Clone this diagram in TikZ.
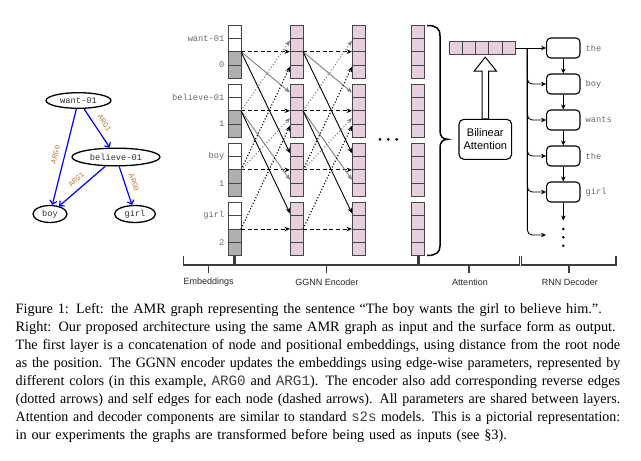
\documentclass[tikz,border=0pt]{standalone}
\usepackage{graphicx}
\usepackage{fontspec}
\setmainfont{Liberation Serif}
\setsansfont{Liberation Sans}
\setmonofont{Liberation Mono}
\usetikzlibrary{arrows.meta,shapes.geometric,calc}
\definecolor{argblue}{RGB}{0,0,255}
\definecolor{arglab}{RGB}{185,125,60}
\definecolor{pinkc}{RGB}{231,208,222}
\definecolor{embg}{RGB}{176,176,176}
\definecolor{edgegray}{RGB}{128,128,128}
\definecolor{cellline}{RGB}{70,70,70}
\definecolor{labgray}{RGB}{105,105,105}
\definecolor{brkgray}{RGB}{60,60,60}
\newlength\capw
\setlength\capw{604.5pt}
\newcommand\capline[1]{\setbox0\hbox{#1}\ifdim\wd0>\capw\resizebox{\capw}{\height}{#1}\else\makebox[\capw][s]{#1}\fi}
\begin{document}
\begin{tikzpicture}[x=1pt,y=-1pt,
  amr/.style={ellipse, draw, line width=1.3pt, inner sep=0pt, font=\fontsize{8.7}{10}\ttfamily, text=black!80},
  amredge/.style={argblue, line width=1.2pt, -{Straight Barb[length=3.5pt,width=7pt]}},
  amrlab/.style={sloped, above, font=\fontsize{7.6}{9}\ttfamily, text=arglab, inner sep=2pt, outer sep=4.5pt},
  cell/.style={draw=cellline, line width=0.8pt, minimum width=13pt, minimum height=13.333pt, inner sep=0pt, outer sep=0pt},
  vcell/.style={draw=cellline, line width=0.8pt, fill=pinkc, minimum width=13.1pt, minimum height=12.6pt, inner sep=0pt, outer sep=0pt},
  emblab/.style={anchor=east, font=\fontsize{8.7}{10}\ttfamily, text=labgray, inner sep=0pt},
  arr/.style={-{Stealth[length=5.5pt,width=4.5pt]}},
  selfe/.style={arr, black, line width=0.9pt, dash pattern=on 4pt off 2.6pt},
  a0/.style={arr, black, line width=0.9pt},
  a1/.style={arr, edgegray, line width=0.9pt},
  a0r/.style={arr, black, line width=1.1pt, dash pattern=on 1.1pt off 2pt},
  a1r/.style={arr, edgegray, line width=1.1pt, dash pattern=on 1.1pt off 2pt},
  dec/.style={draw, rounded corners=4pt, line width=1.1pt, minimum width=33.3pt, minimum height=20pt, inner sep=0pt},
  declab/.style={anchor=west, font=\fontsize{8.7}{10}\ttfamily, text=labgray, inner sep=0pt},
  arr2/.style={-{Stealth[length=5pt,width=4.5pt]}, line width=0.9pt},
  attbox/.style={draw, rounded corners=5pt, line width=1.1pt, minimum width=52.7pt, minimum height=40pt, align=center, font=\fontsize{11}{13.2}\sffamily, inner sep=0pt},
  brk/.style={draw=brkgray, line width=1.2pt},
  blab/.style={font=\fontsize{9}{11}\sffamily, text=black!85, inner sep=0pt}
]
\useasboundingbox (0,0) rectangle (641,461);

% ---------- AMR graph ----------
\node[amr, minimum width=65pt, minimum height=15.6pt] (want) at (78.5,100.5) {want-01};
\node[amr, minimum width=88pt, minimum height=17.7pt] (believe) at (116,157) {believe-01};
\node[amr, minimum width=34pt, minimum height=17pt] (boy) at (50,214) {boy};
\node[amr, minimum width=41pt, minimum height=17pt] (girl) at (135,214) {girl};
\draw[amredge] (want) -- node[amrlab]{ARG0} (boy);
\draw[amredge] (want) -- node[amrlab]{ARG1} (believe);
\draw[amredge] (believe) -- node[amrlab]{ARG1} (boy);
\draw[amredge] (believe) -- node[amrlab]{ARG0} (girl);

% ---------- columns of cells ----------
\foreach \c/\xx in {1/228,2/290,3/352,4/411}{
  \foreach \g in {1,2,3,4}{
    \foreach \k in {1,2,3,4}{
      \ifnum\c=1 \ifnum\k<3 \def\cf{white}\else\def\cf{embg}\fi \else \def\cf{pinkc}\fi
      \node[cell, fill=\cf] (c\c g\g k\k) at ({\xx+6.5},{25+(\g-1)*59.1+(\k-1)*13.333+6.667}) {};
    }
  }
}

% embedding labels
\node[emblab] (l1a) at ($(c1g1k1.south west)+(-3.5,0)$) {want-01};
\node[emblab] (l1b) at ($(c1g1k3.south west)+(-3.5,0)$) {0};
\node[emblab] (l2a) at ($(c1g2k1.south west)+(-3.5,0)$) {believe-01};
\node[emblab] (l2b) at ($(c1g2k3.south west)+(-3.5,0)$) {1};
\node[emblab] (l3a) at ($(c1g3k1.south west)+(-3.5,0)$) {boy};
\node[emblab] (l3b) at ($(c1g3k3.south west)+(-3.5,0)$) {1};
\node[emblab] (l4a) at ($(c1g4k1.south west)+(-3.5,0)$) {girl};
\node[emblab] (l4b) at ($(c1g4k3.south west)+(-3.5,0)$) {2};

% ---------- GGNN edges ----------
\foreach \a/\b in {1/2,2/3}{
  \foreach \g in {1,2,3,4}{
    \draw[selfe] (c\a g\g k2.south east) -- (c\b g\g k2.south west);
  }
  \draw[a1] (c\a g1k2.south east) -- ($(c\b g2k1.north west)+(0,8.4)$);
  \draw[a0] (c\a g1k2.south east) -- ($(c\b g3k1.north west)+(0,10)$);
  \draw[a1r] (c\a g2k2.south east) -- ($(c\b g1k1.north west)+(0,15.7)$);
  \draw[a1] (c\a g2k2.south east) -- ($(c\b g3k1.north west)+(0,36.6)$);
  \draw[a0] (c\a g2k2.south east) -- ($(c\b g4k1.north west)+(0,11)$);
  \draw[a0r] (c\a g3k2.south east) -- ($(c\b g1k1.north west)+(0,41.7)$);
  \draw[a1r] (c\a g3k2.south east) -- ($(c\b g2k1.north west)+(0,34)$);
  \draw[a0r] (c\a g4k2.south east) -- ($(c\b g2k1.north west)+(0,41.7)$);
}

% ellipsis dots
\foreach \xx in {380,388.3,396.7}{ \fill (\xx,139.3) circle (1.5pt); }

% brace
\draw[line width=1.5pt] (427,25.5) .. controls (436,25.5) and (440,28) .. (440,36)
  -- (440,131) .. controls (440,136.5) and (443,139.3) .. (447.5,139.3)
  .. controls (443,139.3) and (440,142) .. (440,147.6)
  -- (440,246) .. controls (440,252.5) and (436,255.5) .. (427,255.5);

% ---------- attention ----------
\foreach \j in {1,...,5}{
  \node[vcell] (v\j) at ({449.5+6.55+13.1*(\j-1)},48) {};
}
\node[attbox] (att) at (485.3,139.3) {Bilinear\\Attention};
\draw[line width=1pt, fill=white] ($(att.north)+(-3.3,0)$) -- ($(att.north)+(-3.3,-47.6)$)
  -- ($(att.north)+(-11.2,-47.6)$) -- ($(att.north)+(0,-61.6)$)
  -- ($(att.north)+(11.2,-47.6)$) -- ($(att.north)+(3.3,-47.6)$)
  -- ($(att.north)+(3.3,0)$) -- cycle;

% ---------- decoder ----------
\foreach \i/\w in {1/the,2/boy,3/wants,4/the,5/girl}{
  \node[dec] (d\i) at (563.3,{48+36*(\i-1)}) {};
  \node[declab] (w\i) at ($(d\i.east)+(5,0)$) {\w};
}
\coordinate (split) at ($(v5.east)+(12.3,0)$);
\draw[arr2] (v5.east) -- (d1.west);
\foreach \i in {2,...,5}{
  \draw[arr2, rounded corners=5pt] (split) |- (d\i.west);
}
\coordinate (dend) at (546,235);
\draw[arr2, rounded corners=5pt] (split) |- (dend);
\foreach \i/\j in {1/2,2/3,3/4,4/5}{
  \draw[arr2] (d\i.south) -- (d\j.north);
}
\coordinate (dstop) at (563.3,220.5);
\draw[arr2] (d5.south) -- (dstop);
\foreach \yy in {229,237.3,245.7}{ \fill (563.3,\yy) circle (1.4pt); }

% ---------- bottom brackets ----------
\draw[brk] (183.3,256) -- (183.3,265) -- (234,265) -- (234,256);
\draw[brk] (208.7,265) -- (208.7,273);
\draw[brk] (235.7,256) -- (235.7,265) -- (417.3,265) -- (417.3,256);
\draw[brk] (326.5,265) -- (326.5,273);
\draw[brk] (419,256) -- (419,265) -- (519.3,265) -- (519.3,256);
\draw[brk] (469,265) -- (469,273);
\draw[brk] (521.7,256) -- (521.7,265) -- (616,265) -- (616,256);
\draw[brk] (569,265) -- (569,273);
\node[blab] (lemb) at (208.7,282.5) {Embeddings};
\node[blab] (lggnn) at (327,282.5) {GGNN Encoder};
\node[blab] (latt) at (470,282.5) {Attention};
\node[blab] (lrnn) at (570,282.5) {RNN Decoder};

% ---------- caption ----------
\node[anchor=base west, inner sep=0pt, text width=\capw, font=\fontsize{14.3}{18.1}\selectfont] (cap) at (15.5,313) {%
\capline{Figure 1: Left: the AMR graph representing the sentence “The boy wants the girl to believe him.”.}\\
\capline{Right: Our proposed architecture using the same AMR graph as input and the surface form as output.}\\
\capline{The first layer is a concatenation of node and positional embeddings, using distance from the root node}\\
\capline{as the position. The GGNN encoder updates the embeddings using edge-wise parameters, represented by}\\
\capline{different colors (in this example, {\ttfamily\color{black!75}ARG0} and {\ttfamily\color{black!75}ARG1}). The encoder also add corresponding reverse edges}\\
\capline{(dotted arrows) and self edges for each node (dashed arrows). All parameters are shared between layers.}\\
\capline{Attention and decoder components are similar to standard {\ttfamily\color{black!75}s2s} models. This is a pictorial representation:}\\
in our experiments the graphs are transformed before being used as inputs (see §3).};
\end{tikzpicture}
\end{document}
